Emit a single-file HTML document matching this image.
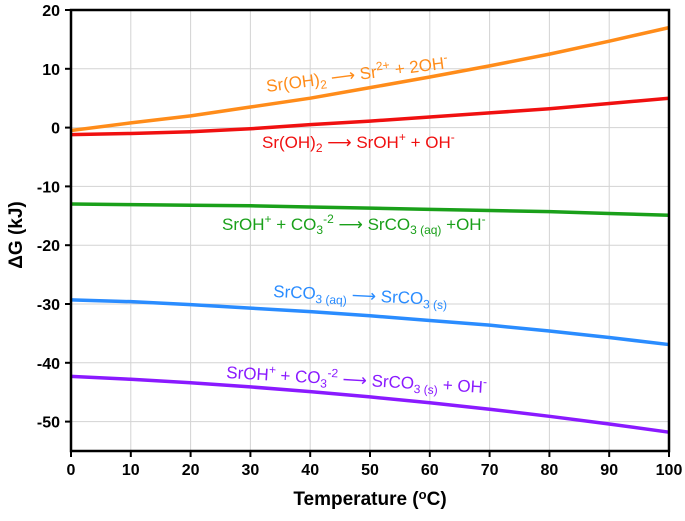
<!DOCTYPE html>
<html><head><meta charset="utf-8"><style>
body{margin:0;background:#fff;font-family:"Liberation Sans",sans-serif}
svg text{font-family:"Liberation Sans","DejaVu Sans",sans-serif}
</style></head><body>
<svg id="chart" width="685" height="516"></svg>
<script>
const temps=[0,10,20,30,40,50,60,70,80,90,100];
const orangeVals=[-0.5,0.8,2,3.5,5,6.8,8.6,10.5,12.5,14.7,17];
const redVals=[-1.2,-1,-0.7,-0.2,0.5,1.1,1.8,2.5,3.2,4.1,5];
const greenVals=[-13,-13.1,-13.2,-13.3,-13.5,-13.7,-13.9,-14.1,-14.3,-14.6,-14.9];
const blueVals=[-29.3,-29.6,-30.1,-30.7,-31.3,-32,-32.8,-33.6,-34.6,-35.7,-36.9];
const purpleVals=[-42.3,-42.8,-43.4,-44.1,-44.9,-45.8,-46.8,-47.9,-49.1,-50.4,-51.8];
const xTicks=[0,10,20,30,40,50,60,70,80,90,100];
const yTicks=[20,10,0,-10,-20,-30,-40,-50];
const NS="http://www.w3.org/2000/svg";
const svg=document.getElementById('chart');
const X0=71,X1=669,Ytop=10,Ybot=451;
const x=v=>X0+(v-0)/100*(X1-X0);
const y=v=>Ytop+(20-v)/75*(Ybot-Ytop);
function mk(t,a,parent){const e=document.createElementNS(NS,t);for(const k in a)e.setAttribute(k,a[k]);(parent||svg).appendChild(e);return e;}
const grid=mk('g',{});


xTicks.forEach(t=>{if(t>0&&t<100)mk('line',{x1:x(t),x2:x(t),y1:Ytop,y2:Ybot,stroke:'#d3d3d3','stroke-width':1},grid);});
yTicks.forEach(t=>{if(t<20)mk('line',{x1:X0,x2:X1,y1:y(t),y2:y(t),stroke:'#d3d3d3','stroke-width':1},grid);});
const series=[[orangeVals,'#ff8c1a','orange-line'],[redVals,'#f01010','red-line'],[greenVals,'#1aa01a','green-line'],[blueVals,'#2a8cff','blue-line'],[purpleVals,'#8a1aff','purple-line']];
series.forEach(s=>{
 const p=mk('polyline',{points:temps.map((t,i)=>x(t)+','+y(s[0][i])).join(' '),fill:'none',stroke:s[1],'stroke-width':3.5,'stroke-linejoin':'round'});
 
 
});
const ax=mk('g',{});


mk('rect',{x:X0,y:Ytop,width:X1-X0,height:Ybot-Ytop,fill:'none',stroke:'#000','stroke-width':2.5},ax);
xTicks.forEach(t=>{mk('line',{x1:x(t),x2:x(t),y1:Ybot,y2:Ybot+6,stroke:'#000','stroke-width':2},ax);
 const tx=mk('text',{x:x(t),y:Ybot+24,'text-anchor':'middle','font-size':16,'font-weight':'bold'},ax);tx.textContent=t;
 });
yTicks.forEach(t=>{mk('line',{x1:X0-6,x2:X0,y1:y(t),y2:y(t),stroke:'#000','stroke-width':2},ax);
 const tx=mk('text',{x:X0-11,y:y(t)+6,'text-anchor':'end','font-size':16,'font-weight':'bold'},ax);tx.textContent=t;
 });
</script>
<svg width="685" height="516" style="position:absolute;left:0;top:0">
<g font-family="Liberation Sans, sans-serif" font-size="17">
<text x="370" y="505" text-anchor="middle" font-weight="bold" font-size="19">Temperature (<tspan font-size="13" dy="-6">o</tspan><tspan dy="6">C)</tspan></text>
<text transform="translate(22,235) rotate(-90)" text-anchor="middle" font-weight="bold" font-size="19">ΔG (kJ)</text>
<text x="267" y="92" transform="rotate(-7.5 267 92)" fill="#ff8c1a">Sr(OH)<tspan font-size="12" dy="4">2</tspan><tspan dy="-4"> ⟶  Sr</tspan><tspan font-size="12" dy="-7">2+</tspan><tspan dy="7"> + 2OH</tspan><tspan font-size="12" dy="-7">-</tspan></text>
<text x="262" y="148" fill="#f01010">Sr(OH)<tspan font-size="12" dy="4">2</tspan><tspan dy="-4"> ⟶  SrOH</tspan><tspan font-size="12" dy="-7">+</tspan><tspan dy="7"> + OH</tspan><tspan font-size="12" dy="-7">-</tspan></text>
<text x="222" y="230" fill="#1aa01a">SrOH<tspan font-size="12" dy="-7">+</tspan><tspan dy="7"> + CO</tspan><tspan font-size="12" dy="4">3</tspan><tspan font-size="12" dy="-11">-2</tspan><tspan dy="7">  ⟶  SrCO</tspan><tspan font-size="12" dy="4">3 (aq)</tspan><tspan dy="-4"> +OH</tspan><tspan font-size="12" dy="-7">-</tspan></text>
<text x="273" y="297" transform="rotate(2.7 273 297)" fill="#2a8cff">SrCO<tspan font-size="12" dy="4">3 (aq)</tspan><tspan dy="-4">  ⟶  SrCO</tspan><tspan font-size="12" dy="4">3 (s)</tspan></text>
<text x="226" y="378" transform="rotate(3.3 226 378)" fill="#8a1aff">SrOH<tspan font-size="12" dy="-7">+</tspan><tspan dy="7"> + CO</tspan><tspan font-size="12" dy="4">3</tspan><tspan font-size="12" dy="-11">-2</tspan><tspan dy="7">  ⟶  SrCO</tspan><tspan font-size="12" dy="4">3 (s)</tspan><tspan dy="-4"> + OH</tspan><tspan font-size="12" dy="-7">-</tspan></text>
</g>
</svg>
</body></html>
